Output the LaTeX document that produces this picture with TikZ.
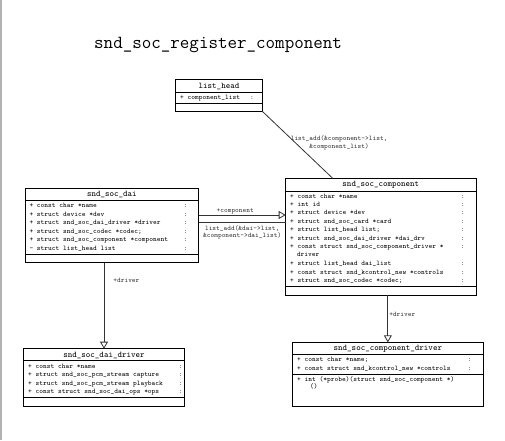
\documentclass[tikz,border=0pt]{standalone}
\usepackage{fontspec}
\usetikzlibrary{arrows.meta, calc}

\begin{document}
\begin{tikzpicture}[x=1pt, y=-1pt, font=\ttfamily,
  box/.style={draw, line width=0.8pt, fill=white, inner sep=0pt, outer sep=0pt, anchor=north west},
  ttl/.style={anchor=base, inner sep=0pt, font=\ttfamily\fontsize{8.6}{10}\selectfont},
  row/.style={anchor=base west, inner sep=0pt, font=\ttfamily\fontsize{7.05}{8}\selectfont},
  lbl/.style={inner sep=1pt, align=center, font=\ttfamily\fontsize{7}{8}\selectfont},
  conn/.style={line width=0.8pt, black!80},
  inh/.style={conn, -{Triangle[open, length=7pt, width=8pt]}}]
\useasboundingbox (0,0) rectangle (505,440);
\fill[gray!60] (0,0) rectangle (1.5,440);
\node[anchor=base west, inner sep=0pt, font=\ttfamily\fontsize{18.5}{20}\selectfont] (title) at (94,48.3) {snd\_soc\_register\_component};

% list_head
\node[box, minimum width=86.6pt, minimum height=31.6pt] (lh) at (175.7,79.7) {};
\draw ($(lh.north west)+(0,12)$) -- +(86.6,0);
\draw ($(lh.north west)+(0,23.6)$) -- +(86.6,0);
\node[ttl] at ($(lh.north)+(0,8.8)$) {list\_head};
\node[row] at (180,99.7) {+ component\_list};
\node[row] at (250,99.7) {:};

% snd_soc_dai
\node[box, minimum width=173.7pt, minimum height=74.4pt] (dai) at (25,188.3) {};
\draw ($(dai.north west)+(0,11.7)$) -- +(173.7,0);
\draw ($(dai.north west)+(0,65.7)$) -- +(173.7,0);
\node[ttl] at ($(dai.north)+(0,8.5)$) {snd\_soc\_dai};
\foreach \y/\t in {205.7/{+ const char *name}, 214.3/{+ struct device *dev},
    222.7/{+ struct snd\_soc\_dai\_driver *driver}, 231.3/{+ struct snd\_soc\_codec *codec;},
    239.7/{+ struct snd\_soc\_component *component}, 248.3/{- struct list\_head list}}{
  \node[row] at (29.3,\y+2) {\t};
  \node[row] at (183.7,\y+2) {:};
}

% snd_soc_component
\node[box, minimum width=190.3pt, minimum height=117pt] (comp) at (285.7,178.3) {};
\draw ($(comp.north west)+(0,12.4)$) -- +(190.3,0);
\draw ($(comp.north west)+(0,107.7)$) -- +(190.3,0);
\node[ttl] at ($(comp.north)+(0,8.5)$) {snd\_soc\_component};
\foreach \y/\t in {196.7/{+ const char *name}, 204.3/{+ int id}, 212.3/{+ struct device *dev},
    221.3/{+ struct snd\_soc\_card *card}, 229.3/{+ struct list\_head list;},
    238.3/{+ struct snd\_soc\_dai\_driver *dai\_drv},
    246.7/{+ const struct snd\_soc\_component\_driver *},
    263.3/{+ struct list\_head dai\_list}, 272.3/{+ const struct snd\_kcontrol\_new *controls},
    280.3/{+ struct snd\_soc\_codec *codec;}}{
  \node[row] at (290,\y+2) {\t};
  \node[row] at (460.7,\y+2) {:};
}
\node[row] at (296.7,256.3) {driver};

% snd_soc_dai_driver
\node[box, minimum width=161.4pt, minimum height=57.3pt] (ddrv) at (23.3,348.7) {};
\draw ($(ddrv.north west)+(0,11.3)$) -- +(161.4,0);
\draw ($(ddrv.north west)+(0,48.6)$) -- +(161.4,0);
\node[ttl] at ($(ddrv.north)+(0,8.8)$) {snd\_soc\_dai\_driver};
\foreach \y/\t in {366.3/{+ const char *name}, 374.7/{+ struct snd\_soc\_pcm\_stream capture},
    383.3/{+ struct snd\_soc\_pcm\_stream playback}, 391.7/{+ const struct snd\_soc\_dai\_ops *ops}}{
  \node[row] at (28,\y+2) {\t};
  \node[row] at (178.3,\y+2) {:};
}

% snd_soc_component_driver
\node[box, minimum width=190.3pt, minimum height=64.4pt] (cdrv) at (292.7,342.3) {};
\draw ($(cdrv.north west)+(0,11.7)$) -- +(190.3,0);
\draw ($(cdrv.north west)+(0,32)$) -- +(190.3,0);
\node[ttl] at ($(cdrv.north)+(0,8.5)$) {snd\_soc\_component\_driver};
\foreach \y/\t in {359.7/{+ const char *name;}, 368.3/{+ const struct snd\_kcontrol\_new *controls}}{
  \node[row] at (297,\y+2) {\t};
  \node[row] at (467.7,\y+2) {:};
}
\node[row] at (297,381.3) {+ int (*probe)(struct snd\_soc\_component *)};
\node[row] at (310,388.7) {()};

% connectors
\draw[conn] (lh.south east) -- ($(comp.north west)+(47,0)$)
  node[lbl, pos=0.47, anchor=west, xshift=-6pt, font=\ttfamily\fontsize{7}{8}\selectfont] {list\_add(\&component->list,\\\&component\_list)};
\draw[inh] ($(dai.north east)+(0,26.7)$) coordinate (c1) -- (c1 -| comp.west)
  node[lbl, pos=0.42, above] {+component};
\draw[conn] ($(dai.north east)+(0,34.4)$) coordinate (c2) -- (c2 -| comp.west)
  node[lbl, midway, below, yshift=-2pt, font=\ttfamily\fontsize{7}{6.4}\selectfont] {list\_add(\&dai->list,\\\&component->dai\_list)};
\draw[inh] (dai.south -| ddrv.north) -- (ddrv.north)
  node[lbl, pos=0.2, right, xshift=8pt] {+driver};
\draw[inh] (comp.south -| cdrv.north) -- (cdrv.north)
  node[lbl, pos=0.4, right] {+driver};
\end{tikzpicture}
\end{document}
